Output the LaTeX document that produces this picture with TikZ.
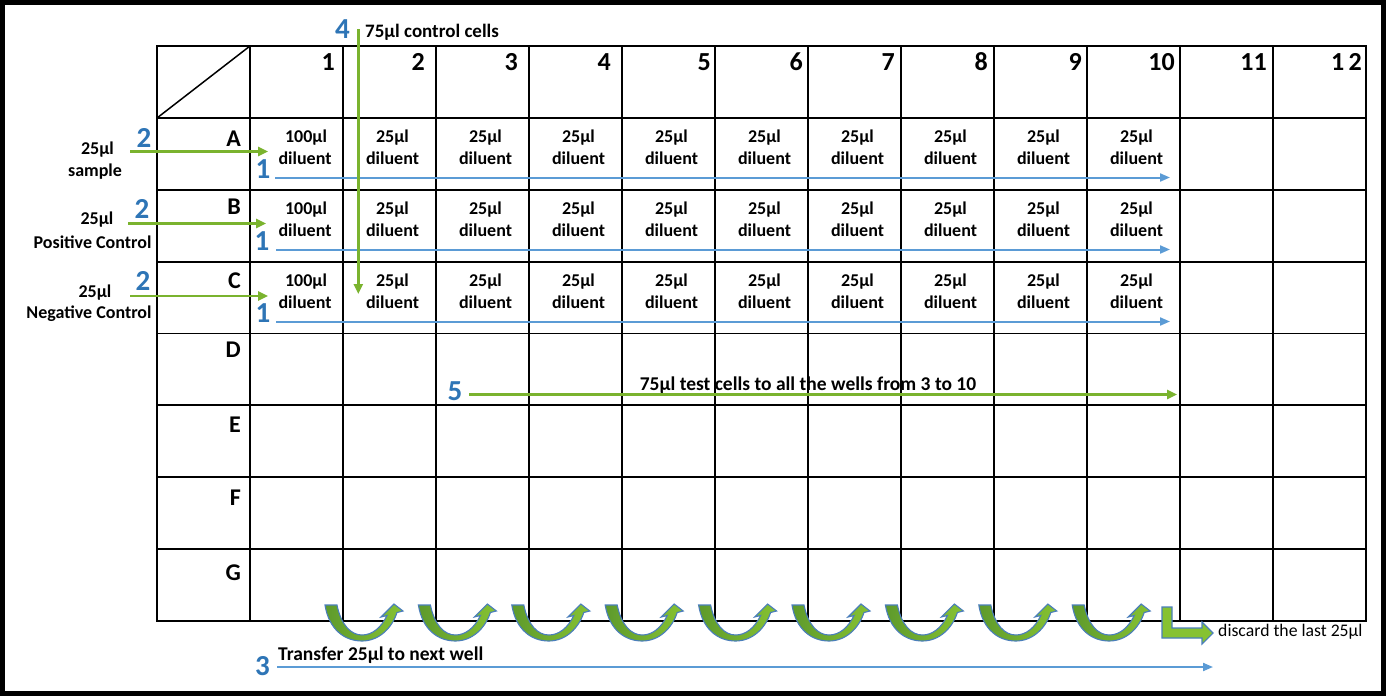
\documentclass[tikz,border=0pt]{standalone}
\usepackage{fontspec}
\setmainfont{Carlito}
\usetikzlibrary{arrows.meta}
\definecolor{numblue}{HTML}{2E75B6}
\definecolor{lineblue}{HTML}{5B9BD5}
\definecolor{agreen}{HTML}{7AB32E}
\definecolor{dkgreen}{HTML}{5E9A2C}
\definecolor{ltgreen}{HTML}{86C232}
\definecolor{outblue}{HTML}{4A7EBB}
\begin{document}
\begin{tikzpicture}[x=1pt,y=-1pt,
  grid/.style={line width=1.8pt, line cap=rect},
  colnum/.style={font=\bfseries\fontsize{26}{26}\selectfont, anchor=base east, inner sep=0pt},
  rowlet/.style={font=\bfseries\fontsize{24}{24}\selectfont, anchor=base east, inner sep=0pt},
  celltxt/.style={font=\bfseries\fontsize{18}{20}\selectfont, anchor=base, inner sep=0pt},
  stepnum/.style={font=\bfseries\fontsize{29}{29}\selectfont, text=numblue, anchor=base, inner sep=0pt},
  lbl/.style={font=\bfseries\fontsize{18}{20}\selectfont, anchor=base, inner sep=0pt},
  biglbl/.style={font=\bfseries\fontsize{19.5}{22}\selectfont, inner sep=0pt},
  plainlbl/.style={font=\fontsize{17.7}{20}\selectfont, anchor=base west, inner sep=0pt},
  bluearrow/.style={draw=lineblue, line width=2pt, -{Triangle[length=10pt,width=8pt]}},
  greenarrow/.style={draw=agreen, line width=2.4pt, -{Triangle[length=10pt,width=9pt]}},
  uarrow/.style={draw=outblue, line width=1.1pt, left color=dkgreen, right color=ltgreen},
  larrow/.style={draw=outblue, line width=1.1pt, fill=ltgreen}
]
\useasboundingbox (0,0) rectangle (1388,696);
\fill[white] (0,0) rectangle (1388,696);
\draw[line width=4.5pt] (2.5,2.5) rectangle (1383.5,693.5);

% grid
\foreach \i in {0,...,13} \draw[grid] ({157+93*\i},46) -- ({157+93*\i},621);
\foreach \j in {0,...,8} \draw[grid] (157,{46+71.875*\j}) -- (1366,{46+71.875*\j});
\draw[line width=1.5pt] (157,118) -- (250,46);

% column numbers
\foreach \c/\xr in {1/335,2/425,3/518,4/611,5/711,6/803,7/895,8/988,9/1082,10/1175,11/1267}
  \node[colnum] (col\c) at (\xr,70) {\c};
\node[colnum] (col12) at (1362,70) {1\,2};

% row letters
\foreach \r/\yb in {A/146,B/214,C/288,D/357,E/432,F/505,G/580}
  \node[rowlet] (row\r) at (241,\yb) {\r};

% cell texts
\foreach \r/\top in {A/118,B/190,C/262}{
  \node[celltxt] (\r1a) at (306,\top+24) {100µl};
  \node[celltxt] (\r1b) at (305,\top+46.5) {diluent};
  \foreach \c in {2,...,10}{
    \node[celltxt] (\r\c a) at ({157+93*\c+46.5+3},\top+24) {25µl};
    \node[celltxt] (\r\c b) at ({157+93*\c+46.5+3},\top+46.5) {diluent};
  }
}

% left labels and step 2 arrows
\node[lbl] (sA1) at (97.5,154) {25µl};
\node[lbl] (sA2) at (95,176) {sample};
\node[lbl] (sB1) at (97,224) {25µl};
\node[lbl] (sB2) at (92.5,248) {Positive Control};
\node[lbl] (sC1) at (95,297) {25µl};
\node[lbl] (sC2) at (89,318) {Negative Control};

\node[stepnum] (twoA) at (144,147) {2};
\node[stepnum] (twoB) at (142,218) {2};
\node[stepnum] (twoC) at (143,290) {2};

\coordinate (gA0) at (130,151.5); \coordinate (gA1) at (268,151.5);
\coordinate (gB0) at (128,223.5); \coordinate (gB1) at (266,223.5);
\coordinate (gC0) at (130,296);   \coordinate (gC1) at (268,296);
\draw[greenarrow] (gA0) -- (gA1);
\draw[greenarrow] (gB0) -- (gB1);
\draw[greenarrow] (gC0) -- (gC1);

% step 1 arrows
\node[stepnum] (oneA) at (263,178) {1};
\node[stepnum] (oneB) at (262,250) {1};
\node[stepnum] (oneC) at (263,322) {1};
\coordinate (bA0) at (275,177.5); \coordinate (bA1) at (1170,177.5);
\coordinate (bB0) at (276,249.5); \coordinate (bB1) at (1170,249.5);
\coordinate (bC0) at (276,321.5); \coordinate (bC1) at (1170,321.5);
\draw[bluearrow] (bA0) -- (bA1);
\draw[bluearrow] (bB0) -- (bB1);
\draw[bluearrow] (bC0) -- (bC1);

% step 4
\node[stepnum] (four) at (342.5,38) {4};
\node[biglbl, font=\bfseries\fontsize{19}{22}\selectfont, anchor=base west] (ctrl) at (365,37) {75µl control cells};
\coordinate (v0) at (358.3,29); \coordinate (v1) at (358.3,294);
\draw[greenarrow] (v0) -- (v1);

% step 5
\node[stepnum] (five) at (455,400) {5};
\node[biglbl, anchor=base] (testc) at (808,390) {75µl test cells to all the wells from 3 to 10};
\coordinate (d0) at (469,394.5); \coordinate (d1) at (1177,394.5);
\draw[greenarrow] (d0) -- (d1);

% step 3 curved transfer arrows
\foreach \k in {0,...,8}{
  \pgfmathsetmacro{\L}{325+93.4*\k}
  \path[uarrow] (\L,605) .. controls (\L+4,630) and (\L+20,641) .. (\L+37,641)
     .. controls (\L+54,641) and (\L+67,628) .. (\L+72,612.5)
     -- (\L+78,611) -- (\L+69,604) -- (\L+56,617) -- (\L+62,615.5)
     .. controls (\L+56,628) and (\L+47,635) .. (\L+37,635)
     .. controls (\L+26,635) and (\L+16,625) .. (\L+12,605) -- cycle;
}
% discard arrow
\path[larrow] (1162,607) -- (1172,607) -- (1172,628) -- (1202,628) -- (1202,622)
  -- (1213,633) -- (1202,644) -- (1202,638) -- (1162,638) -- cycle;
\node[plainlbl] (disc) at (1218,636) {discard the last 25µl};

% step 3 bottom arrow
\node[stepnum] (three) at (262.5,675) {3};
\node[biglbl, anchor=base west] (transfer) at (278,660) {Transfer 25µl to next well};
\coordinate (t0) at (277,667); \coordinate (t1) at (1213,667);
\draw[bluearrow] (t0) -- (t1);
\end{tikzpicture}
\end{document}
